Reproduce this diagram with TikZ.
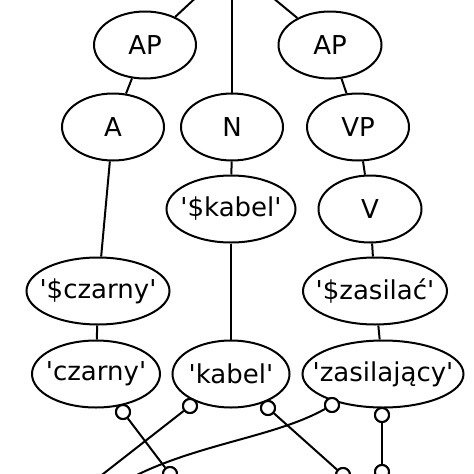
\documentclass[tikz,border=0pt]{standalone}
\usepackage{fontspec}
\setmainfont{DejaVu Sans}
\usetikzlibrary{shapes.geometric}
\newcommand{\kav}[1]{\makebox[0pt]{\textquotesingle#1\textquotesingle}}
\newcommand{\cat}[1]{\makebox[0pt]{#1}}
\begin{document}
\begin{tikzpicture}[x=1pt, y=-1pt, line width=2pt,
	uzel/.style={ellipse, draw, inner sep=0pt, minimum height=67pt,
		font=\fontsize{26}{30}\selectfont},
	kolco/.style={circle, draw, fill=white, inner sep=0pt, minimum size=14pt}]
			\useasboundingbox (0,0) rectangle (474,474);
			\clip (0,0) rectangle (474,474);
			% Вершина над рамкой
			\coordinate (top) at (232,-36);
			% Категории
			\node[uzel, minimum width=102pt] (apl) at (145,45) {\cat{AP}};
			\node[uzel, minimum width=103pt] (apr) at (330,45) {\cat{AP}};
			\node[uzel, minimum width=102pt] (a) at (113,127) {\cat{A}};
			\node[uzel, minimum width=102pt] (n) at (232,127) {\cat{N}};
			\node[uzel, minimum width=102pt] (vp) at (358,127) {\cat{VP}};
			\node[uzel, minimum width=103pt] (v) at (370,209) {\cat{V}};
			% Леммы
			\node[uzel, minimum width=129pt] (skabel) at (231,209) {\kav{\$kabel}};
			\node[uzel, minimum width=143pt] (sczarny) at (98,291) {\kav{\$czarny}};
			\node[uzel, minimum width=144pt] (szasilac) at (375,291) {\kav{\$zasilać}};
			% Словоформы
			\node[uzel, minimum width=128pt] (czarny) at (96,374) {\kav{czarny}};
			\node[uzel, minimum width=117pt] (kabel) at (231,374) {\kav{kabel}};
			\node[uzel, minimum width=161pt] (zasilajacy) at (383,374) {\kav{zasilający}};

			\draw (apl) -- (top);
			\draw (n) -- (top);
			\draw (apr) -- (top);
			\draw (apl) -- (a);
			\draw (apr) -- (vp);
			\draw (vp) -- (v);
			\draw (a) -- (sczarny);
			\draw (n) -- (skabel);
			\draw (v) -- (szasilac);
			\draw (sczarny) -- (czarny);
			\draw (skabel) -- (kabel);
			\draw (szasilac) -- (zasilajacy);

			% Кольца и связи
			\coordinate (bl) at (80,492);
			\coordinate (bc) at (110,490);
			\node[kolco] (cz1) at (123,412) {};
			\node[kolco] (kb1) at (190,406) {};
			\node[kolco] (kb2) at (268,408) {};
			\node[kolco] (zs1) at (332,405) {};
			\node[kolco] (zs2) at (382,415) {};
			\node[kolco] (b1) at (170,474) {};
			\node[kolco] (b2) at (343,475) {};
			\node[kolco] (b3) at (382,472) {};

			\draw (cz1) -- (b1);
			\draw (kb1) -- (bl);
			\draw (kb2) -- (b2);
			\draw (zs1) .. controls (270,440) and (180,445) .. (bc);
			\draw (zs2) -- (b3);
			% кольца поверх линий
			\foreach \k in {cz1,kb1,kb2,zs1,zs2,b1,b2,b3}
			\node[kolco] at (\k) {};
		\end{tikzpicture}
\end{document}
